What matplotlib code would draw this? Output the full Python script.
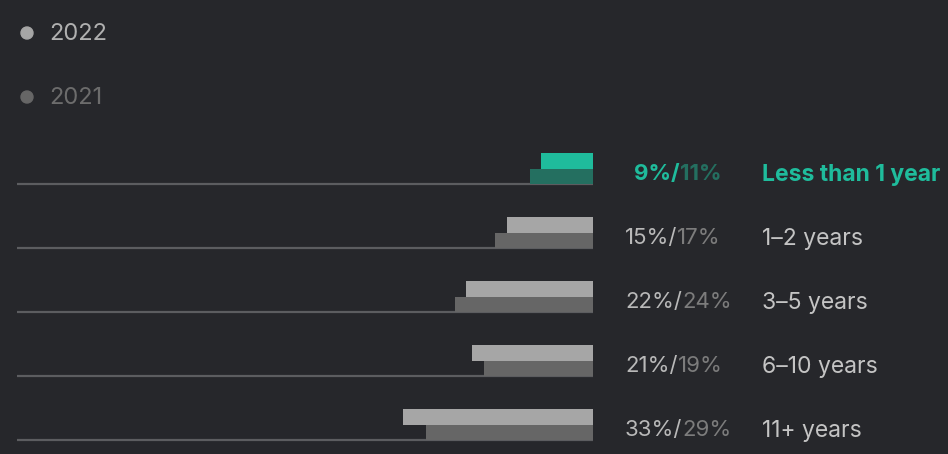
import matplotlib.pyplot as plt
from matplotlib.patches import Circle
from matplotlib.transforms import blended_transform_factory

# dati
categories = ["Less than 1 year", "1–2 years", "3–5 years", "6–10 years", "11+ years"]
values_2022 = [9, 15, 22, 21, 33]
values_2021 = [11, 17, 24, 19, 29]
years = ["2022", "2021"]
highlight = 0  # riga evidenziata in verde

BG = "#26272b"
GRAY_22 = "#a6a6a6"
GRAY_21 = "#666666"
TEAL_22 = "#1fbc9c"
TEAL_21 = "#246f60"
TXT_22 = "#b9b9b9"
TXT_21 = "#7c7c7c"
LABEL = "#c4c4c4"

plt.rcParams['font.family'] = ['Inter', 'DejaVu Sans']

W, H = 948, 454
fig = plt.figure(figsize=(W / 100, H / 100), dpi=100, facecolor=BG)

# asse delle barre: da x=17 a x=593 px, y in pixel (invertita)
ax = fig.add_axes([17 / W, 0, 576 / W, 1])
ax.set_facecolor(BG)
ax.set_xlim(100, 0)
ax.set_ylim(H, 0)
ax.axis('off')

row0 = 169
step = 64
bar_h = 16
centers = [row0 + step * i for i in range(len(categories))]

for i, c in enumerate(centers):
    if i == highlight:
        c22, c21 = TEAL_22, TEAL_21
    else:
        c22, c21 = GRAY_22, GRAY_21
    ax.plot([0, 100], [c + bar_h - 1, c + bar_h - 1], color="#5c5d60", lw=1.6,
            solid_capstyle='butt', zorder=1)
    ax.barh(c - bar_h / 2, values_2022[i], height=bar_h, left=0, color=c22, zorder=2)
    ax.barh(c + bar_h / 2 - 0.5, values_2021[i], height=bar_h - 1, left=0, color=c21, zorder=2)

# testi a destra
tr = blended_transform_factory(fig.transFigure, ax.transData)
for i, c in enumerate(centers):
    bold = i == highlight
    w = 'bold' if bold else 'normal'
    col_a = TEAL_22 if bold else TXT_22
    col_b = TEAL_21 if bold else TXT_21
    col_l = TEAL_22 if bold else LABEL
    x0 = (634 if bold else 625) / W
    t1 = ax.text(x0, c + 5.5, f"{values_2022[i]}%/", transform=tr, ha='left', va='center',
                 fontsize=16, color=col_a, fontweight=w)
    ax.annotate(f"{values_2021[i]}%", xy=(1, 0), xycoords=t1, ha='left', va='bottom',
                fontsize=16, color=col_b, fontweight=w)
    ax.text(762 / W, c + 5.5, categories[i], transform=tr, ha='left', va='center',
            fontsize=16.5, color=col_l, fontweight=w)

# legenda in alto a sinistra
leg_y = [33, 97]
leg_col = [GRAY_22, GRAY_21]
leg_txt = ["#b0b0b0", "#6c6c6c"]
for yr, y, cd, ct in zip(years, leg_y, leg_col, leg_txt):
    fig.patches.append(Circle((27, H - y), 6, transform=None, color=cd))
    fig.text(49 / W, 1 - (y + 1.5) / H, yr, ha='left', va='center', fontsize=17, color=ct)

fig.savefig("out.png", dpi=100, facecolor=BG)
